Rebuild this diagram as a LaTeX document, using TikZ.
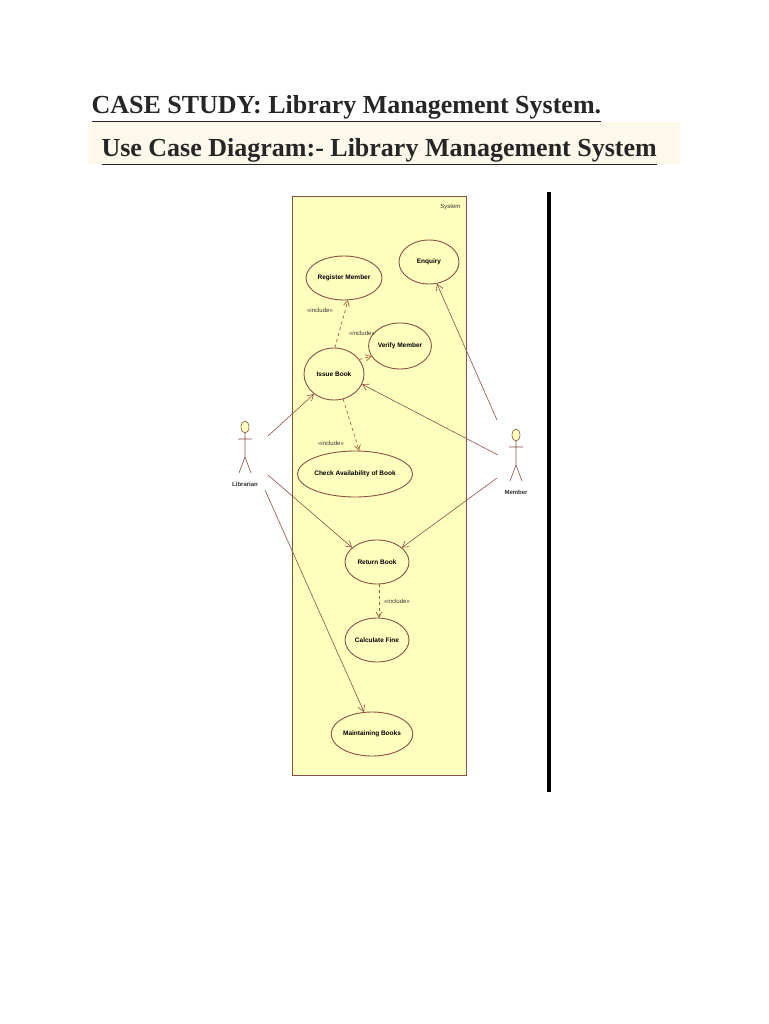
\documentclass[tikz,border=0pt]{standalone}
\usepackage{fontspec}
\setmainfont{Liberation Serif}
\setsansfont{Liberation Sans}
\usetikzlibrary{arrows.meta,shapes.geometric}
\definecolor{sysfill}{RGB}{255,255,190}
\definecolor{brn}{RGB}{140,80,70}
\definecolor{cream}{RGB}{253,248,236}
\tikzset{
 uc/.style={ellipse,draw=brn,fill=sysfill,line width=0.9pt,font=\sffamily\bfseries\fontsize{6.5}{7}\selectfont,inner sep=0pt},
 assoc/.style={draw=brn,line width=0.6pt,-{Straight Barb[length=6pt,width=7pt]}},
 incl/.style={draw=brn!80!orange,dashed,line width=0.7pt,-{Straight Barb[length=5pt,width=6pt]}},
 lbl/.style={font=\sffamily\fontsize{6}{7}\selectfont,text=black!80},
 ttl/.style={font=\bfseries\fontsize{26}{28}\selectfont,anchor=base west,text=black!85}
}
\newcommand{\incltxt}{\textless\textless include\textgreater\textgreater}
\begin{document}
\begin{tikzpicture}[x=1pt,y=-1pt]
\useasboundingbox (0,0) rectangle (768,1024);
\fill[white] (0,0) rectangle (768,1024);
\node[ttl] (t1) at (88,114) {\underline{CASE STUDY: Library Management System.}};
\fill[cream] (88,122) rectangle (680,164);
\node[ttl] (t2) at (98,157) {\underline{Use Case Diagram:- Library Management System}};
\draw[brn,fill=sysfill,line width=0.8pt] (292,196) rectangle (466,775);
\node[lbl,anchor=north east] (sys) at (464,201) {System};
\draw[black,line width=3.5pt] (549,192) -- (549,792);
\node[uc,minimum width=76pt,minimum height=44pt] (reg) at (344,278) {Register Member};
\node[uc,minimum width=60pt,minimum height=44pt] (enq) at (429,262) {Enquiry};
\node[uc,minimum width=62pt,minimum height=46pt] (ver) at (400,346) {Verify Member};
\node[uc,minimum width=60pt,minimum height=52pt] (iss) at (334,374) {Issue Book};
\node[uc,minimum width=106pt,minimum height=46pt] (chk) at (355,474) {Check Availability of Book};
\node[uc,minimum width=64pt,minimum height=44pt] (ret) at (377,562) {Return Book};
\node[uc,minimum width=64pt,minimum height=44pt] (fine) at (377,640) {Calculate Fine};
\node[uc,minimum width=74pt,minimum height=44pt] (mnt) at (372,734) {Maintaining Books};
% actors
\foreach \n/\x/\y/\t in {lib/245/427/Librarian,mem/516/435/Member}{
 \begin{scope}[shift={(\x,\y)}]
 \draw[brn,fill=sysfill,line width=0.6pt] (0,0) ellipse (4pt and 6pt);
 \draw[brn,line width=0.6pt] (0,6)--(0,30) (-7,12)--(7,12) (0,30)--(-6,46) (0,30)--(6,46);
 \end{scope}
 \node[lbl,font=\sffamily\bfseries\fontsize{6}{7}\selectfont] (\n) at (\x,\y+57) {\t};
}
\coordinate (l1) at (268,436); \coordinate (l2) at (268,475); \coordinate (l3) at (265,490);
\coordinate (m1) at (498,455); \coordinate (m2) at (497,478); \coordinate (m3) at (497,420);
\draw[assoc] (l1) -- (iss.225);
\draw[assoc] (l2) -- (ret.150);
\draw[assoc] (l3) -- (mnt.110);
\draw[assoc] (m1) -- (iss.-20);
\draw[assoc] (m2) -- (ret.30);
\draw[assoc] (m3) -- (enq.-70);
\draw[incl] (iss.88) -- (reg.-80);
\draw[incl] (iss.30) -- (ver.200);
\draw[incl] (iss.-70) -- (chk.80);
\draw[incl] (ret.-85) -- (fine.85);
\node[lbl] (i1) at (320,310) {\incltxt};
\node[lbl] (i2) at (362,333) {\incltxt};
\node[lbl] (i3) at (331,443) {\incltxt};
\node[lbl] (i4) at (397,601) {\incltxt};
\end{tikzpicture}
\end{document}
